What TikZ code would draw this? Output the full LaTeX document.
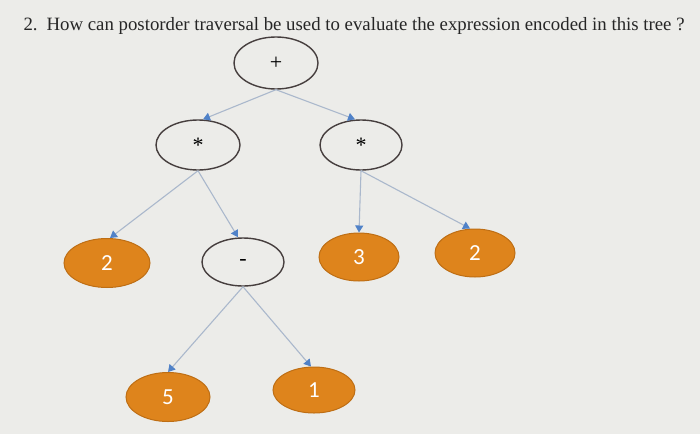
\documentclass[tikz,border=0pt]{standalone}
\usepackage{fontspec}
\setmainfont{Liberation Serif}
\setsansfont{Carlito}
\usetikzlibrary{shapes.geometric,arrows.meta}
\definecolor{bgc}{RGB}{236,236,233}
\definecolor{orfill}{RGB}{222,132,28}
\definecolor{ordraw}{RGB}{190,110,20}
\definecolor{ringc}{RGB}{70,62,62}
\definecolor{edgec}{RGB}{170,184,204}
\definecolor{tipc}{RGB}{80,130,200}
\tikzset{
  opnode/.style={ellipse, draw=ringc, line width=1.4pt, fill=bgc, minimum width=#1, minimum height=50pt, inner sep=0pt, font=\fontsize{22}{22}\selectfont},
  numnode/.style={ellipse, draw=ordraw, line width=1pt, fill=orfill, minimum width=#1, minimum height=49pt, inner sep=0pt, text=white, font=\sffamily\fontsize{23}{23}\selectfont},
  conn/.style={draw=edgec, line width=1.1pt, -{Triangle[length=7pt,width=8pt,fill=tipc,color=tipc]}}
}
\begin{document}
\begin{tikzpicture}[x=1pt,y=-1pt]
\fill[bgc] (0,0) rectangle (700,434);
\useasboundingbox (0,0) rectangle (700,434);
\node[anchor=west, font=\fontsize{18.8}{18.8}\selectfont, text=black!85] (title) at (20,26) {2.\hspace{9pt}How can postorder traversal be used to evaluate the expression encoded in this tree ?};
\node[opnode=84pt, minimum height=52pt] (plus) at (276,63) {+};
\node[opnode=84pt] (ml) at (198,145) {*};
\node[opnode=82pt] (mr) at (361,145) {*};
\node[numnode=86pt] (two1) at (107,263) {2};
\node[opnode=82pt, minimum height=48pt] (minus) at (243,262) {-};
\node[numnode=80pt, minimum height=48pt] (three) at (359,257) {3};
\node[numnode=80pt, minimum height=48pt] (two2) at (475,253) {2};
\node[numnode=84pt] (five) at (168,397) {5};
\node[numnode=82pt, minimum height=46pt] (one) at (314,390) {1};
\draw[conn] (plus.south) -- ([xshift=5pt]ml.north);
\draw[conn] (plus.south) -- ([xshift=-6pt]mr.north);
\draw[conn] (ml.south) -- ([xshift=3pt]two1.north);
\draw[conn] (ml.south) -- ([xshift=-5pt]minus.north);
\draw[conn] (mr.south) -- (three.north);
\draw[conn] (mr.south) -- ([xshift=-5pt]two2.north);
\draw[conn] (minus.south) -- (five.north);
\draw[conn] (minus.south) -- ([xshift=-3pt]one.north);
\end{tikzpicture}
\end{document}
